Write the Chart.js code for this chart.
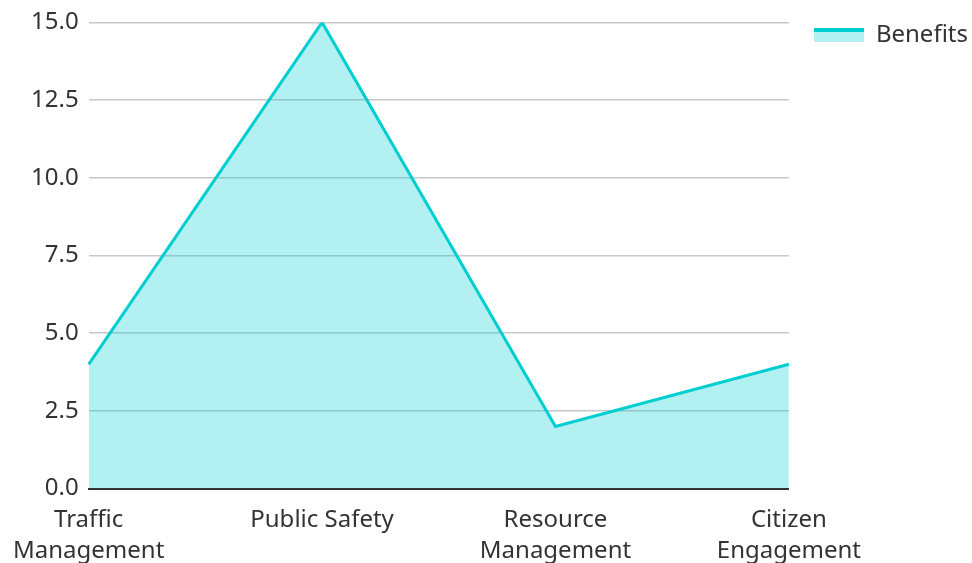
<!DOCTYPE html>
<html>
<head>
<meta charset="utf-8">
<script src="https://cdn.jsdelivr.net/npm/chart.js@4/dist/chart.umd.min.js"></script>
<style>
html,body{margin:0;padding:0;background:#fff;}
#wrap{width:972px;height:563px;position:relative;overflow:hidden;}
</style>
</head>
<body>
<div id="wrap"><canvas id="c"></canvas></div>
<script>
const categories = [["Traffic","Management"],"Public Safety",["Resource","Management"],["Citizen","Engagement"]];
const benefits = [4, 15, 2, 4];
const seriesName = "Benefits";

const LINE = '#00CED1';
const FILL = 'rgba(0,206,209,0.3)';

// legend swatch: line on top, fill below
const sw = document.createElement('canvas');
sw.width = 50; sw.height = 14;
(function(){
  const g = sw.getContext('2d');
  g.fillStyle = FILL; g.fillRect(0,0,50,14);
  g.fillStyle = LINE; g.fillRect(0,0,50,4);
})();

Chart.defaults.font.family = "'Noto Sans', sans-serif";
Chart.defaults.font.size = 24;
Chart.defaults.color = "#333";

new Chart(document.getElementById('c'), {
  type: 'line',
  data: {
    labels: categories,
    datasets: [{
      label: seriesName,
      data: benefits,
      borderColor: LINE,
      backgroundColor: FILL,
      borderWidth: 3,
      fill: true,
      pointRadius: 0,
      pointStyle: sw,
      tension: 0
    }]
  },
  options: {
    responsive: true,
    maintainAspectRatio: false,
    animation: false,
    layout: {padding: {top: -2, right: -6, left: 8, bottom: -20}},
    plugins: {
      legend: {
        position: 'right',
        align: 'start',
        labels: {usePointStyle: true, pointStyleWidth: 50, boxHeight: 14, padding: 25, color: '#333', font: {size: 24}}
      },
      tooltip: {enabled: false}
    },
    scales: {
      x: {
        offset: false,
        grid: {display: false, drawTicks: false},
        border: {display: true, color: '#333', width: 2},
        ticks: {maxRotation: 0, autoSkip: false, padding: 16, font: {size: 24, lineHeight: 1.3}},
        afterFit: s => { s.paddingLeft = Math.max(0, s.paddingLeft - 3); }
      },
      y: {
        min: 0, max: 15,
        ticks: {stepSize: 2.5, padding: 10, callback: v => v.toFixed(1), font: {size: 24}},
        grid: {color: '#c8c8c8', lineWidth: 1.5, drawTicks: false},
        border: {display: false},
        afterFit: s => { s.paddingTop = Math.max(0, s.paddingTop - 2); }
      }
    }
  }
});
</script>
</body>
</html>
